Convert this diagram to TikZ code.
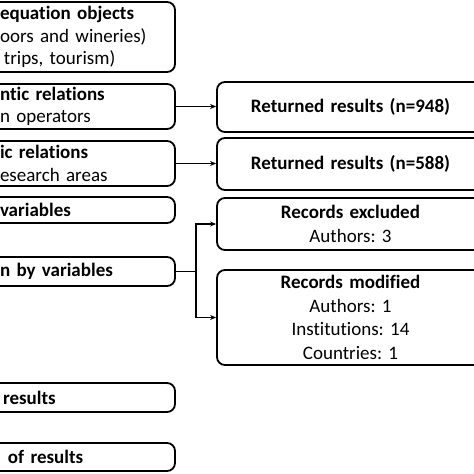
\documentclass[tikz,border=0pt]{standalone}
\usepackage{fontspec}
\setmainfont{Carlito}[Ligatures=NoCommon]
\usepackage{tikz}
\usetikzlibrary{positioning,calc,arrows.meta}
\frenchspacing

\begin{document}
\begin{tikzpicture}[
                x=1pt,y=-1pt,
                leftbox/.style={draw,line width=1.8pt,rounded corners=8pt,minimum width=190pt,
                           text width=160pt,inner xsep=15pt,inner ysep=2pt,align=left,
                           font=\fontsize{19}{22.5}\selectfont},
                rightbox/.style={draw,line width=1.8pt,rounded corners=8pt,minimum width=267pt,
                           text width=250pt,align=center,inner ysep=2pt,
                           font=\fontsize{19}{23.5}\selectfont},
                arr/.style={line width=1.5pt,-{Stealth[length=6pt,width=5pt]}}
            ]
                \useasboundingbox (0,0) rectangle (474,474);
                % left column
                \node[leftbox,minimum height=70pt] (objects) at (80,37) {\textbf{equation objects}\\oors and wineries)\\\hspace{4pt}trips, tourism)};
                \node[leftbox,minimum height=45pt] (semantic) at (80,106.5) {\textbf{ntic relations}\\n operators};
                \node[leftbox,minimum height=45pt] (thematic) at (80,163.5) {\textbf{ic relations}\\esearch areas};
                \node[leftbox,minimum height=26pt] (variables) at (80,210) {\textbf{variables}};
                \node[leftbox,minimum height=29pt] (byvars) at (80,271.5) {\textbf{n by variables}};
                \node[leftbox,minimum height=29pt] (results) at (80,397.5) {\hspace{3pt}\textbf{results}};
                \node[leftbox,minimum height=28pt] (ofresults) at (80,457) {\hspace{8pt}\textbf{of results}};
                % right column
                \node[rightbox,minimum height=50pt] (ret948) at (350.5,107) {\textbf{Returned results (n=948)}};
                \node[rightbox,minimum height=52pt] (ret588) at (350.5,164) {\textbf{Returned results (n=588)}};
                \node[rightbox,minimum height=52pt] (excluded) at (350.5,224) {\textbf{Records excluded}\\Authors: 3};
                \node[rightbox,minimum height=95pt] (modified) at (350.5,317.5) {\textbf{Records modified}\\Authors: 1\\Institutions: 14\\Countries: 1};
                % connectors
                \draw[arr] (semantic.east) -- (semantic.east -| ret948.west);
                \draw[arr] (thematic.east) -- (thematic.east -| ret588.west);
                \draw[line width=1.5pt] (byvars.east) -- ++(20,0) coordinate (fork);
                \draw[arr] (fork) |- (excluded.west);
                \draw[arr] (fork) |- (modified.west);
            \end{tikzpicture}
\end{document}
